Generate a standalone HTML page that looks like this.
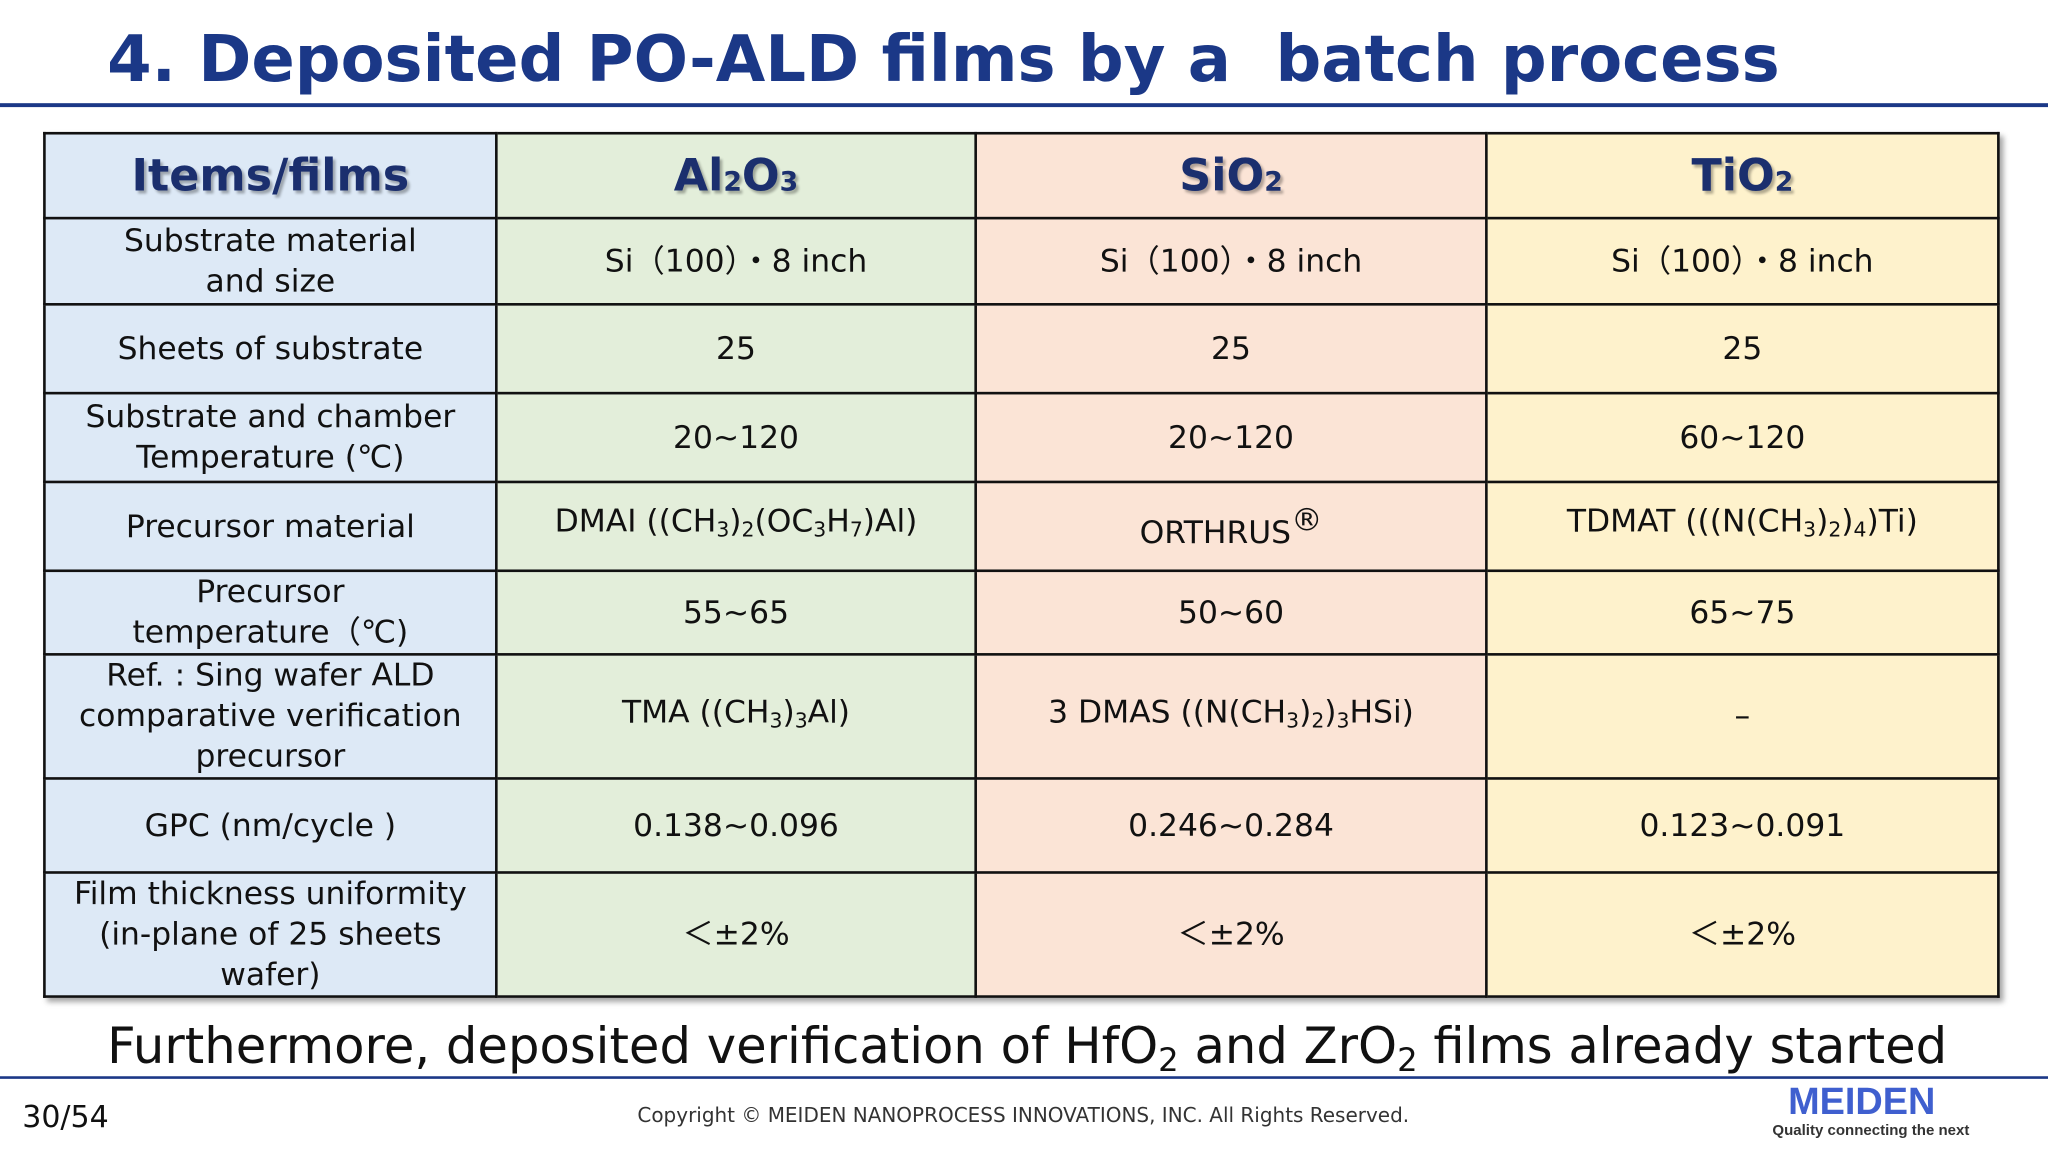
<!DOCTYPE html>
<html><head><meta charset="utf-8"><style>
html,body{margin:0;padding:0;background:#fff;}
body{width:2048px;height:1152px;overflow:hidden;position:relative;}
#s{position:absolute;left:0;top:0;width:1568px;height:882px;transform:scale(1.30612);transform-origin:0 0;font-family:"DejaVu Sans","Noto Sans CJK JP",sans-serif;color:#111;}
.abs{position:absolute;}
.title{left:82px;top:17px;font-size:49px;font-weight:bold;color:#1b3887;white-space:nowrap;}
.hr{left:0;width:1568px;background:#1b3887;}
table{position:absolute;left:33px;top:101px;width:1496px;height:656px;table-layout:fixed;border-collapse:collapse;box-shadow:3px 3px 4px rgba(0,0,0,.35);}
td{border:2px solid #111;text-align:center;vertical-align:middle;font-size:24px;line-height:31px;padding:0;white-space:nowrap;}
.c1{background:#dde9f6;}.c2{background:#e3eeda;}.c3{background:#fbe4d6;}.c4{background:#fef2cc;}
th{border:2px solid #111;font-size:34px;font-weight:bold;color:#1b2f6e;text-shadow:2px 2px 2px rgba(0,0,0,.3);font-family:"DejaVu Sans",sans-serif;}
sub{font-size:0.65em;vertical-align:-0.25em;}
th sub{vertical-align:0;font-size:0.6em;}
</style></head><body>
<div id="s">
<div class="abs title">4. Deposited PO-ALD films by a&nbsp; batch process</div>
<div class="abs hr" style="top:79px;height:3px"></div>
<table>
<colgroup><col style="width:346px"><col style="width:367px"><col style="width:391px"><col style="width:392px"></colgroup>
<tr style="height:65px"><th class="c1">Items/films</th><th class="c2">Al<sub>2</sub>O<sub>3</sub></th><th class="c3">SiO<sub>2</sub></th><th class="c4">TiO<sub>2</sub></th></tr>
<tr style="height:66px"><td class="c1">Substrate material<br>and size</td><td class="c2">Si（100）・8 inch</td><td class="c3">Si（100）・8 inch</td><td class="c4">Si（100）・8 inch</td></tr>
<tr style="height:68px"><td class="c1">Sheets of substrate</td><td class="c2">25</td><td class="c3">25</td><td class="c4">25</td></tr>
<tr style="height:68px"><td class="c1">Substrate and chamber<br>Temperature (℃)</td><td class="c2">20~120</td><td class="c3">20~120</td><td class="c4">60~120</td></tr>
<tr style="height:68px"><td class="c1">Precursor material</td><td class="c2">DMAI ((CH<sub>3</sub>)<sub>2</sub>(OC<sub>3</sub>H<sub>7</sub>)Al)</td><td class="c3">ORTHRUS<span style="vertical-align:0.4em">®</span></td><td class="c4">TDMAT (((N(CH<sub>3</sub>)<sub>2</sub>)<sub>4</sub>)Ti)</td></tr>
<tr style="height:63px"><td class="c1">Precursor<br>temperature（℃)</td><td class="c2">55~65</td><td class="c3">50~60</td><td class="c4">65~75</td></tr>
<tr style="height:95px"><td class="c1">Ref. : Sing wafer ALD<br>comparative verification<br>precursor</td><td class="c2">TMA ((CH<sub>3</sub>)<sub>3</sub>Al)</td><td class="c3">3 DMAS ((N(CH<sub>3</sub>)<sub>2</sub>)<sub>3</sub>HSi)</td><td class="c4">–</td></tr>
<tr style="height:72px"><td class="c1">GPC (nm/cycle )</td><td class="c2">0.138~0.096</td><td class="c3">0.246~0.284</td><td class="c4">0.123~0.091</td></tr>
<tr style="height:91px"><td class="c1">Film thickness uniformity<br>(in-plane of 25 sheets<br>wafer)</td><td class="c2">＜±2%</td><td class="c3">＜±2%</td><td class="c4">＜±2%</td></tr>
</table>
<div class="abs" style="left:82px;top:779px;font-size:38px;white-space:nowrap">Furthermore, deposited verification of HfO<sub>2</sub> and ZrO<sub>2</sub> films already started</div>
<div class="abs hr" style="top:824px;height:2px"></div>
<div class="abs" style="left:17px;top:843px;font-size:23px">30/54</div>
<div class="abs" style="left:488px;top:845px;font-size:15.3px;color:#333;white-space:nowrap">Copyright © MEIDEN NANOPROCESS INNOVATIONS, INC. All Rights Reserved.</div>
<div class="abs" style="left:1369px;top:828px;font-size:29px;font-weight:bold;color:#3f5fcf;font-family:'Liberation Sans',sans-serif">MEIDEN</div>
<div class="abs" style="left:1357px;top:860px;font-size:11.5px;font-weight:bold;color:#333;font-family:'Liberation Sans',sans-serif">Quality connecting the next</div>
</div>
</body></html>
